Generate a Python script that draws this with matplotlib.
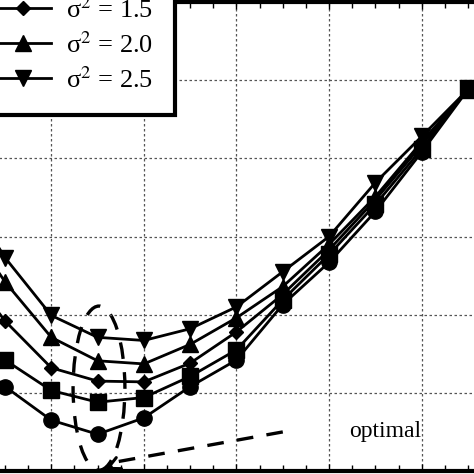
import matplotlib
matplotlib.use('Agg')
import matplotlib.pyplot as plt
from matplotlib.patches import Ellipse
from matplotlib.ticker import MultipleLocator

plt.rcParams['font.family'] = ['Liberation Serif', 'DejaVu Serif']
plt.rcParams['mathtext.fontset'] = 'stix'

# x positions of the points
x = [0, 1, 2, 3, 4, 5, 6, 7, 8, 9, 10, 11]

# one curve per noise variance
y_s05 = [1.60, 1.08, 0.65, 0.47, 0.68, 1.08, 1.42, 2.13, 2.67, 3.32, 4.08, 4.88]
y_s10 = [2.00, 1.42, 1.03, 0.88, 0.94, 1.21, 1.55, 2.19, 2.77, 3.41, 4.12, 4.90]
y_s15 = [2.70, 1.92, 1.32, 1.15, 1.14, 1.38, 1.78, 2.26, 2.83, 3.47, 4.17, 4.88]
y_s20 = [3.30, 2.42, 1.71, 1.41, 1.37, 1.62, 1.96, 2.36, 2.90, 3.51, 4.21, 4.88]
y_s25 = [3.68, 2.73, 1.99, 1.71, 1.67, 1.82, 2.10, 2.55, 3.00, 3.69, 4.28, 4.88]

labels = ['σ$^2$ = 0.5', 'σ$^2$ = 1.0', 'σ$^2$ = 1.5',
          'σ$^2$ = 2.0', 'σ$^2$ = 2.5']

fig = plt.figure(figsize=(4.74, 4.74), dpi=100)
# the chart is cropped: the axes run past the left edge of the picture
ax = fig.add_axes([-41.3 / 474, 3 / 474, 555.6 / 474, 469 / 474])

series = [(y_s05, 'o', 11), (y_s10, 's', 11), (y_s15, 'D', 7.5),
          (y_s20, '^', 11), (y_s25, 'v', 11)]
for (ys, mk, ms), lab in zip(series, labels):
    ax.plot(x, ys, color='black', lw=2, marker=mk, markersize=ms,
            markerfacecolor='black', markeredgecolor='black', label=lab)

# region of optimal values
ax.add_patch(Ellipse((3.03, 1.06), 1.12, 2.1, fill=False, edgecolor='black',
                     lw=2.4, linestyle=(0, (5, 4))))
ax.plot([7.0, 3.25], [0.5, 0.1], color='black', lw=2.4, linestyle=(0, (5, 4)))
ax.annotate('', xy=(3.1, 0.0), xytext=(3.35, 0.07),
            arrowprops=dict(arrowstyle='->', lw=2.2, color='black', mutation_scale=22))
ax.text(8.43, 0.44, 'optimal', fontsize=17, va='baseline', ha='left')

ax.set_xlim(0, 12)
ax.set_ylim(0, 6)
ax.xaxis.set_major_locator(MultipleLocator(2))
ax.xaxis.set_minor_locator(MultipleLocator(0.5))
ax.yaxis.set_major_locator(MultipleLocator(1))
ax.yaxis.set_minor_locator(MultipleLocator(0.25))
ax.tick_params(which='both', direction='in', top=True, right=True,
               labelbottom=False, labelleft=False)
ax.tick_params(which='major', length=5, width=1)
ax.tick_params(which='minor', length=4, width=1)
ax.grid(True, which='major', color='#555555', lw=0.9, linestyle=(0, (2, 2)))
for sp in ax.spines.values():
    sp.set_linewidth(3)

leg = ax.legend(loc='lower right', bbox_to_anchor=(175 / 474, (474 - 115) / 474),
                bbox_transform=fig.transFigure, fontsize=19, frameon=True,
                fancybox=False, framealpha=1, edgecolor='black',
                handlelength=2.1, handletextpad=0.55, labelspacing=0.35,
                borderpad=0.85, borderaxespad=0)
leg.get_frame().set_linewidth(3)

fig.savefig('out.png', dpi=100)
